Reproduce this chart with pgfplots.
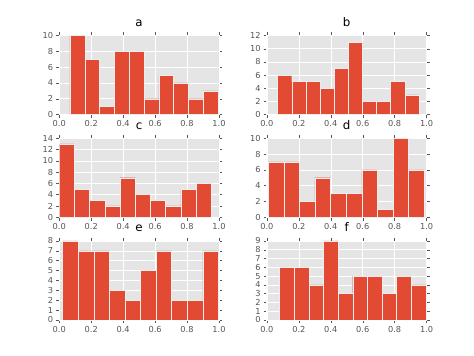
\documentclass[border=0pt]{standalone}
\usepackage{fontspec}
\setmainfont{DejaVu Sans}
\usepackage{pgfplots}
\pgfplotsset{compat=1.18}
\definecolor{barc}{HTML}{E24A33}
\definecolor{bgc}{HTML}{E5E5E5}
\definecolor{tkc}{HTML}{555555}
\definecolor{edgec}{HTML}{EEEEEE}
\pgfplotsset{hstyle/.style={
  set layers=standard,
  scale only axis, width=194.09bp, height=96bp, anchor=south west,
  xmin=0, xmax=1, ymin=0,
  axis background/.style={fill=bgc},
  axis line style={white, line width=1bp},
  grid=major, major grid style={white, line width=0.6bp},
  tick align=outside, major tick length=4bp,
  tick style={tkc, line width=0.5bp},
  xtick={0,0.2,0.4,0.6,0.8,1},
  xticklabels={0.0,0.2,0.4,0.6,0.8,1.0},
  ticklabel style={font=\fontsize{10bp}{12bp}\selectfont, text=tkc},
  /pgf/number format/assume math mode=true,
  title style={at={(0.5,1)}, anchor=base, yshift=5bp, font=\fontsize{14.4bp}{16bp}\selectfont},
  ybar,
},
hbar/.style={fill=barc, draw=edgec, line width=0.5bp}}
\begin{document}
\begin{tikzpicture}
\path (0,0) rectangle (576bp,432bp);
% a
\begin{axis}[hstyle, at={(72bp,292.8bp)}, title={a}, ymax=10, ytick={0,2,...,10}, bar width=0.0927]
\addplot[hbar] coordinates {(0.1134,10)(0.2061,7)(0.2988,1)(0.3915,8)(0.4842,8)(0.5769,2)(0.6696,5)(0.7623,4)(0.8550,2)(0.9477,3)};
\end{axis}
% b
\begin{axis}[hstyle, at={(324.32bp,292.8bp)}, title={b}, ymax=12, ytick={0,2,...,12}, bar width=0.0885]
\addplot[hbar] coordinates {(0.1113,6)(0.1998,5)(0.2883,5)(0.3768,4)(0.4653,7)(0.5538,11)(0.6423,2)(0.7308,2)(0.8193,5)(0.9078,3)};
\end{axis}
% c
\begin{axis}[hstyle, at={(72bp,168bp)}, title={c}, ymax=14, ytick={0,2,...,14}, bar width=0.0952]
\addplot[hbar] coordinates {(0.0476,13)(0.1428,5)(0.2380,3)(0.3332,2)(0.4284,7)(0.5236,4)(0.6188,3)(0.7140,2)(0.8092,5)(0.9044,6)};
\end{axis}
% d
\begin{axis}[hstyle, at={(324.32bp,168bp)}, title={d}, ymax=10, ytick={0,2,...,10}, bar width=0.0977]
\addplot[hbar] coordinates {(0.0569,7)(0.1546,7)(0.2523,2)(0.3500,5)(0.4477,3)(0.5454,3)(0.6431,6)(0.7408,1)(0.8385,10)(0.9362,6)};
\end{axis}
% e
\begin{axis}[hstyle, at={(72bp,43.2bp)}, title={e}, ymax=8, ytick={0,1,...,8}, bar width=0.0975]
\addplot[hbar] coordinates {(0.0698,8)(0.1673,7)(0.2648,7)(0.3623,3)(0.4598,2)(0.5573,5)(0.6548,7)(0.7523,2)(0.8498,2)(0.9473,7)};
\end{axis}
% f
\begin{axis}[hstyle, at={(324.32bp,43.2bp)}, title={f}, ymax=9, ytick={0,1,...,9}, bar width=0.0917]
\addplot[hbar] coordinates {(0.1249,6)(0.2166,6)(0.3083,4)(0.4000,9)(0.4917,3)(0.5834,5)(0.6751,5)(0.7668,3)(0.8585,5)(0.9502,4)};
\end{axis}
\end{tikzpicture}
\end{document}
